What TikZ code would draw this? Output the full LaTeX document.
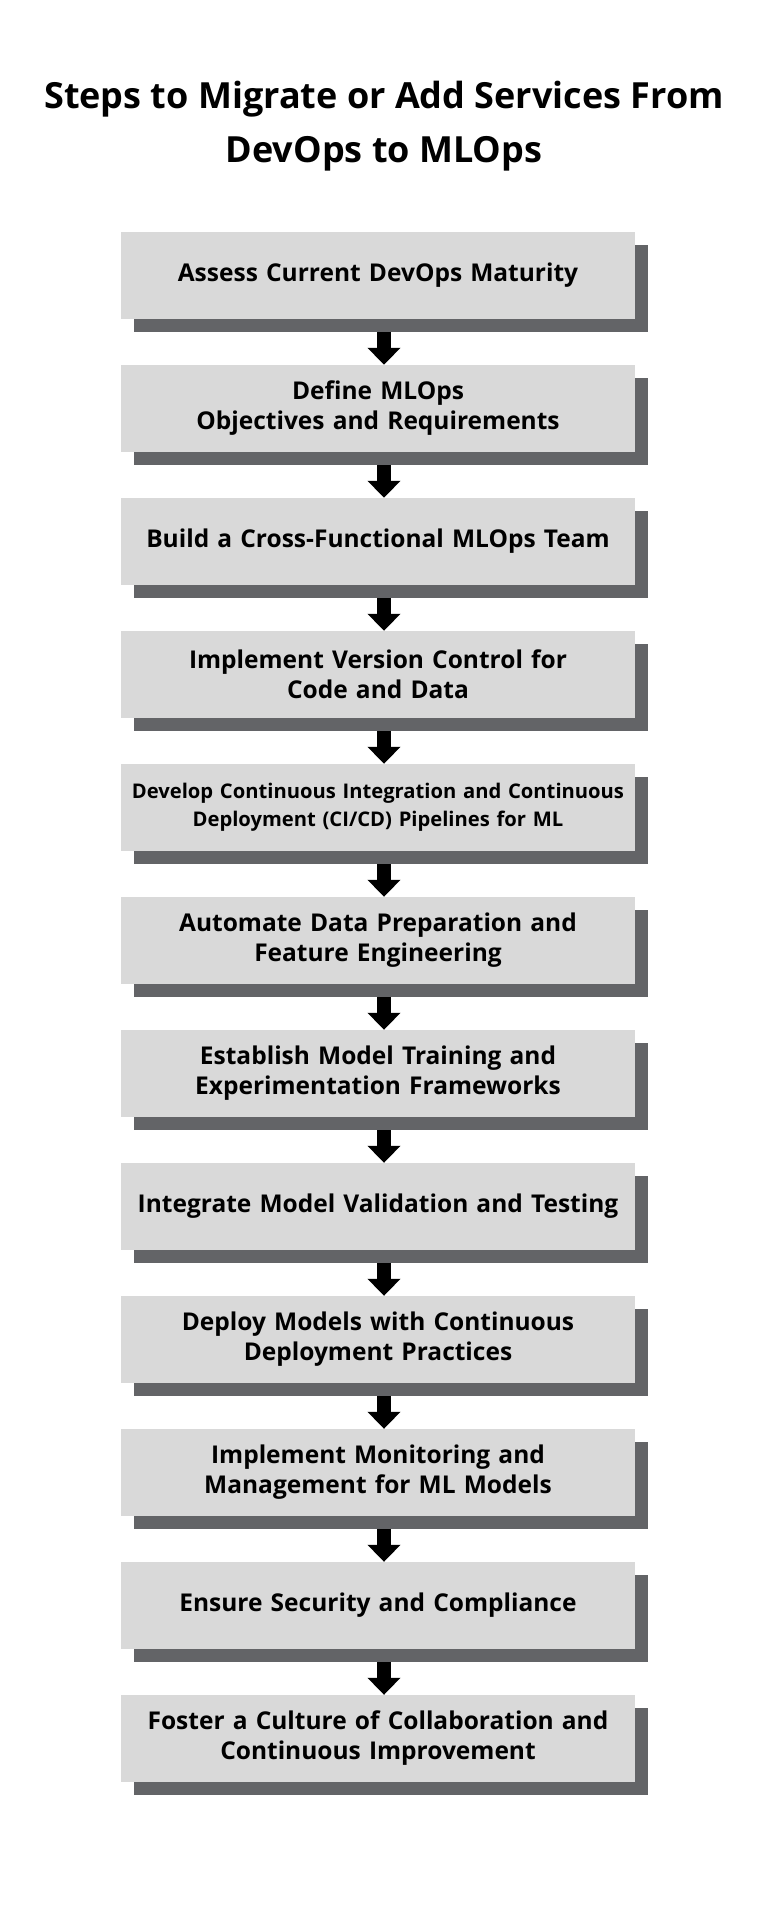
\documentclass[tikz,border=0pt]{standalone}
\usepackage{fontspec}
\setmainfont{Open Sans}
\usetikzlibrary{positioning,shadows,arrows.meta}
\definecolor{boxgray}{HTML}{D9D9D9}
\definecolor{shadowgray}{HTML}{636467}
\tikzset{
	stepbox/.style={rectangle, fill=boxgray, minimum width=514bp, minimum height=87bp,
		text width=514bp, align=center, inner sep=0pt,
		font=\bfseries\fontsize{24.5bp}{30bp}\selectfont,
		drop shadow={shadow xshift=13bp, shadow yshift=-13bp, fill=shadowgray, opacity=1}},
	flow/.style={-{Triangle[width=32bp,length=17bp]}, line width=14bp},
}
\begin{document}
\begin{tikzpicture}[node distance=133bp]
			\fill[white] (0,0) rectangle (768bp,-1920bp);
			\useasboundingbox (0,0) rectangle (768bp,-1920bp);

			\node(title) [font=\bfseries\fontsize{36bp}{54bp}\selectfont, align=center, anchor=north, inner sep=0pt] at (384bp,-81bp) {Steps to Migrate or Add Services From\\DevOps to MLOps};

			\node(s1) [stepbox] at (378bp,-275.5bp) {Assess Current DevOps Maturity};
			\node(s2) [stepbox, below of=s1] {Define MLOps\\Objectives and Requirements};
			\node(s3) [stepbox, below of=s2] {Build a Cross-Functional MLOps Team};
			\node(s4) [stepbox, below of=s3] {Implement Version Control for\\Code and Data};
			\node(s5) [stepbox, below of=s4, font=\bfseries\fontsize{20.2bp}{28bp}\selectfont] {Develop Continuous Integration and Continuous\\Deployment (CI/CD) Pipelines for ML};
			\node(s6) [stepbox, below of=s5] {Automate Data Preparation and\\Feature Engineering};
			\node(s7) [stepbox, below of=s6] {Establish Model Training and\\Experimentation Frameworks};
			\node(s8) [stepbox, below of=s7] {Integrate Model Validation and Testing};
			\node(s9) [stepbox, below of=s8] {Deploy Models with Continuous\\Deployment Practices};
			\node(s10) [stepbox, below of=s9] {Implement Monitoring and\\Management for ML Models};
			\node(s11) [stepbox, below of=s10] {Ensure Security and Compliance};
			\node(s12) [stepbox, below of=s11] {Foster a Culture of Collaboration and\\Continuous Improvement};

			\draw[flow] ([shift={(6bp,-13bp)}]s1.south) -- ([xshift=6bp]s2.north);
			\draw[flow] ([shift={(6bp,-13bp)}]s2.south) -- ([xshift=6bp]s3.north);
			\draw[flow] ([shift={(6bp,-13bp)}]s3.south) -- ([xshift=6bp]s4.north);
			\draw[flow] ([shift={(6bp,-13bp)}]s4.south) -- ([xshift=6bp]s5.north);
			\draw[flow] ([shift={(6bp,-13bp)}]s5.south) -- ([xshift=6bp]s6.north);
			\draw[flow] ([shift={(6bp,-13bp)}]s6.south) -- ([xshift=6bp]s7.north);
			\draw[flow] ([shift={(6bp,-13bp)}]s7.south) -- ([xshift=6bp]s8.north);
			\draw[flow] ([shift={(6bp,-13bp)}]s8.south) -- ([xshift=6bp]s9.north);
			\draw[flow] ([shift={(6bp,-13bp)}]s9.south) -- ([xshift=6bp]s10.north);
			\draw[flow] ([shift={(6bp,-13bp)}]s10.south) -- ([xshift=6bp]s11.north);
			\draw[flow] ([shift={(6bp,-13bp)}]s11.south) -- ([xshift=6bp]s12.north);
		\end{tikzpicture}
\end{document}
